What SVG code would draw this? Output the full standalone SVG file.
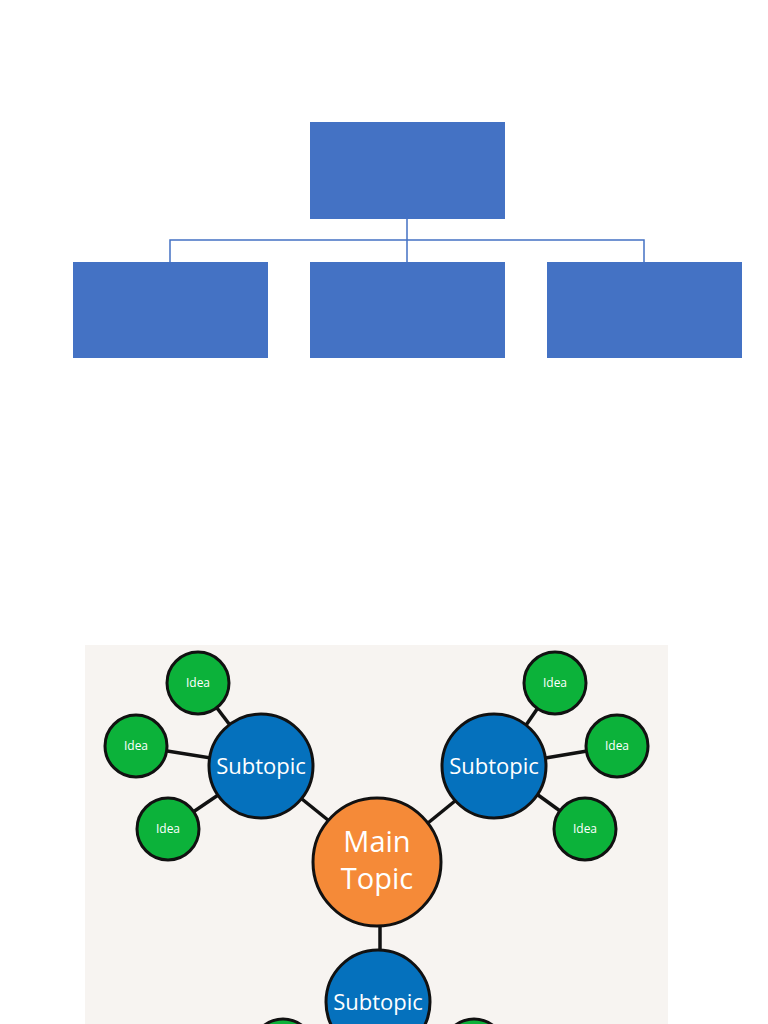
<svg xmlns="http://www.w3.org/2000/svg" width="768" height="1024" viewBox="0 0 768 1024">
<style>
.box{fill:#4472c4}
.org{stroke:#4472c4;stroke-width:1.5;fill:none}
.ln{stroke:#111;stroke-width:3.5}
.c{stroke:#111;stroke-width:3}
.idea{fill:#0cb23a}
.sub{fill:#0571bd}
.main{fill:#f58a38}
text{font-family:"Open Sans","Liberation Sans",sans-serif;fill:#fff;text-anchor:middle}
.ti{font-size:12px}
.ts{font-size:22px}
.tm{font-size:29px}
</style>
<rect width="768" height="1024" fill="#fff"/>
<g id="org-connectors">
<path class="org" d="M407 219V262M170 262V240H644V262"/>
</g>
<g id="box-top"><rect class="box" x="310" y="122" width="195" height="97"/></g>
<g id="box-left"><rect class="box" x="73" y="262" width="195" height="96"/></g>
<g id="box-mid"><rect class="box" x="310" y="262" width="195" height="96"/></g>
<g id="box-right"><rect class="box" x="547" y="262" width="195" height="96"/></g>
<rect x="85" y="645" width="583" height="379" fill="#f7f4f1"/>
<g id="connectors">
<line class="ln" x1="198" y1="683" x2="261" y2="766"/>
<line class="ln" x1="136" y1="746" x2="261" y2="766"/>
<line class="ln" x1="168" y1="829" x2="261" y2="766"/>
<line class="ln" x1="261" y1="766" x2="380" y2="862"/>
<line class="ln" x1="555" y1="683" x2="498" y2="766"/>
<line class="ln" x1="617" y1="746" x2="498" y2="766"/>
<line class="ln" x1="585" y1="829" x2="498" y2="766"/>
<line class="ln" x1="498" y1="766" x2="380" y2="862"/>
<line class="ln" x1="380" y1="862" x2="380" y2="1002"/>
<line class="ln" x1="283" y1="1050" x2="380" y2="1002"/>
<line class="ln" x1="474" y1="1050" x2="380" y2="1002"/>
</g>
<g id="idea-bl"><circle class="c idea" cx="283" cy="1050" r="31"/></g>
<g id="idea-br"><circle class="c idea" cx="474" cy="1050" r="31"/></g>
<g id="idea-tl"><circle class="c idea" cx="198" cy="683" r="31"/><text class="ti" x="198" y="687">Idea</text></g>
<g id="idea-l"><circle class="c idea" cx="136" cy="746" r="31"/><text class="ti" x="136" y="750">Idea</text></g>
<g id="idea-lb"><circle class="c idea" cx="168" cy="829" r="31"/><text class="ti" x="168" y="833">Idea</text></g>
<g id="idea-tr"><circle class="c idea" cx="555" cy="683" r="31"/><text class="ti" x="555" y="687">Idea</text></g>
<g id="idea-r"><circle class="c idea" cx="617" cy="746" r="31"/><text class="ti" x="617" y="750">Idea</text></g>
<g id="idea-rb"><circle class="c idea" cx="585" cy="829" r="31"/><text class="ti" x="585" y="833">Idea</text></g>
<g id="sub-left"><circle class="c sub" cx="261" cy="766" r="52"/><text class="ts" x="261" y="774">Subtopic</text></g>
<g id="sub-right"><circle class="c sub" cx="494" cy="766" r="52"/><text class="ts" x="494" y="774">Subtopic</text></g>
<g id="sub-bottom"><circle class="c sub" cx="378" cy="1002" r="52"/><text class="ts" x="378" y="1010">Subtopic</text></g>
<g id="main"><circle class="c main" cx="377" cy="862" r="64"/><text class="tm" x="377" y="852">Main</text><text class="tm" x="377" y="889">Topic</text></g>
</svg>
